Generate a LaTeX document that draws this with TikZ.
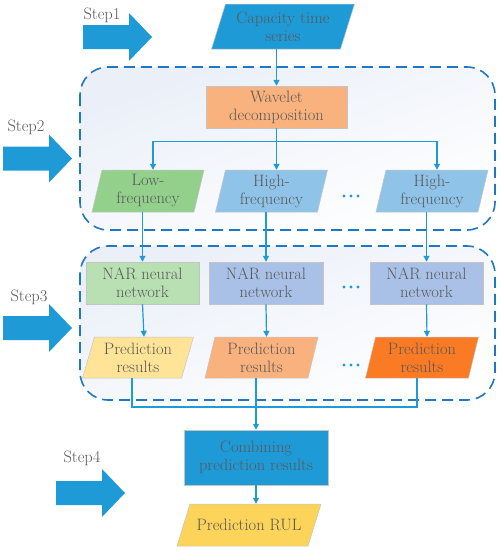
\documentclass[tikz,border=0pt]{standalone}
\usetikzlibrary{arrows.meta}
\definecolor{mainblue}{RGB}{30,155,215}
\definecolor{dashblue}{RGB}{31,120,193}
\definecolor{txtgray}{RGB}{89,89,89}
\definecolor{bordergray}{RGB}{196,196,196}
\definecolor{wavorange}{RGB}{249,178,125}
\definecolor{lfgreen}{RGB}{146,208,139}
\definecolor{hfblue}{RGB}{143,196,232}
\definecolor{nargreen}{RGB}{184,224,178}
\definecolor{narblue}{RGB}{169,193,230}
\definecolor{pyellow}{RGB}{255,228,152}
\definecolor{porange}{RGB}{251,122,36}
\definecolor{rulyellow}{RGB}{252,212,90}
\definecolor{bgblue}{RGB}{234,239,248}
\newcommand\mypgram[8]{%
  \filldraw[pgborder, fill=#7]
    ({#2-#4/2+#6/2},{#3-#5/2}) -- ({#2+#4/2+#6/2},{#3-#5/2}) --
    ({#2+#4/2-#6/2},{#3+#5/2}) -- ({#2-#4/2-#6/2},{#3+#5/2}) -- cycle;
  \node[ptext, minimum width=#4pt, minimum height=#5pt] (#1) at (#2,#3) {#8};}
\newcommand\mystepar[3]{%
  \fill[mainblue] (#1,{#3-12}) -- ({#1+46},{#3-12}) -- ({#1+46},{#3-24}) -- ({#1+69},#3)
    -- ({#1+46},{#3+24}) -- ({#1+46},{#3+12}) -- (#1,{#3+12}) -- cycle;}
\begin{document}
\begin{tikzpicture}[x=1pt,y=-1pt,
  font=\fontsize{16.5}{18}\selectfont,
  pgborder/.style={draw=bordergray, line width=0.5pt},
  ptext/.style={text=txtgray, align=center, inner sep=0pt},
  rbox/.style={draw=bordergray, line width=0.5pt, text=txtgray, align=center, inner sep=0pt},
  conn/.style={draw=mainblue, line width=1.2pt, -{Triangle[length=6pt,width=6pt]}},
  plain/.style={draw=mainblue, line width=1.2pt},
  dashbox/.style={draw=dashblue, line width=1.6pt, rounded corners=28pt,
    dash pattern=on 11pt off 6pt, shading=axis, top color=bgblue, bottom color=white, shading angle=20},
  steplabel/.style={text=txtgray, inner sep=0pt},
  dot/.style={fill=mainblue, draw=none}]
\useasboundingbox (0,0) rectangle (501,550);
% dashed group boxes
\path[dashbox] (80,67) rectangle (495,230);
\path[dashbox] (80,246) rectangle (495,400);
% step arrows and labels
\mystepar{83}{0}{37}
\mystepar{3}{0}{158.5}
\mystepar{3}{0}{328}
\mystepar{56}{0}{493}
\node[steplabel] (s1) at (102,15) {Step1};
\node[steplabel] (s2) at (26,127) {Step2};
\node[steplabel] (s3) at (29,297) {Step3};
\node[steplabel] (s4) at (82,458) {Step4};
% nodes
\mypgram{cap}{283}{26.5}{129}{45}{14}{mainblue}{Capacity time\\series}
\node[rbox, fill=wavorange, minimum width=141pt, minimum height=42pt] (wav) at (276.5,107) {Wavelet\\decomposition};
\mypgram{lf}{148}{191}{102}{42}{10}{lfgreen}{Low-\\frequency}
\mypgram{hf1}{271.5}{191}{102}{42}{10}{hfblue}{High-\\frequency}
\mypgram{hf2}{432}{191}{102}{42}{10}{hfblue}{High-\\frequency}
\node[rbox, fill=nargreen, minimum width=113pt, minimum height=42pt] (nar1) at (142.5,283) {NAR neural\\network};
\node[rbox, fill=narblue, minimum width=114pt, minimum height=42pt] (nar2) at (266,283) {NAR neural\\network};
\node[rbox, fill=narblue, minimum width=113pt, minimum height=42pt] (nar3) at (426.5,283) {NAR neural\\network};
\mypgram{p1}{138}{357.5}{99}{41}{12}{pyellow}{Prediction\\results}
\mypgram{p2}{261.5}{357.5}{103}{41}{10}{wavorange}{Prediction\\results}
\mypgram{p3}{422}{357.5}{103}{41}{10}{porange}{Prediction\\results}
\node[rbox, fill=mainblue, minimum width=144pt, minimum height=55pt] (comb) at (256,457.5) {Combining\\prediction results};
\mypgram{rul}{249}{525}{131}{42}{13}{rulyellow}{Prediction RUL}
% dots
\foreach \yy in {196,287,365} {
  \foreach \xx in {344,351,358} {\fill[dot] (\xx,\yy) circle (1.6pt);}}
% connectors
\draw[conn] (wav.north |- cap.south) -- (wav.north);
\coordinate (br) at ([yshift=-13pt]wav.south);
\draw[plain] (wav.south) -- (br);
\draw[conn] (br) -| ([xshift=5pt]lf.north);
\draw[conn] (br) -| ([xshift=5pt]hf2.north);
\draw[conn] (br) -- ([xshift=5pt]hf1.north);
\draw[conn] (nar1.north |- lf.south) -- (nar1.north);
\draw[conn] (nar2.north |- hf1.south) -- (nar2.north);
\draw[conn] (nar3.north |- hf2.south) -- (nar3.north);
\draw[conn] (nar1.south) -- ([xshift=6pt]p1.north);
\draw[conn] (nar2.south) -- ([xshift=5pt]p2.north);
\draw[conn] (nar3.south) -- ([xshift=5pt]p3.north);
\coordinate (jn) at (256,407);
\draw[plain] ([xshift=-6pt]p1.south) -- ([xshift=-6pt]p1.south |- jn) -- ([xshift=-5pt]p3.south |- jn) -- ([xshift=-5pt]p3.south);
\draw[conn] (comb.north |- p2.south) -- (comb.north);
\draw[conn] (comb.south) -- (comb.south |- rul.north);
\end{tikzpicture}
\end{document}
